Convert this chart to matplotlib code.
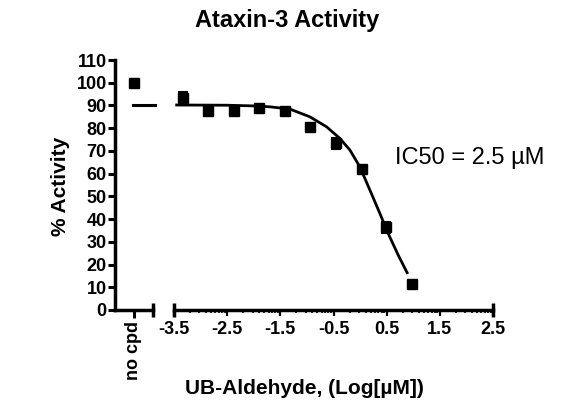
import matplotlib
matplotlib.use('Agg')
import matplotlib.pyplot as plt
import numpy as np

plt.rcParams['font.family'] = ['Liberation Sans', 'DejaVu Sans']

# data
nocpd_act = [100.0]
nocpd_err = [1.5]
nocpd_top_line = [90.0, 90.0]

log_conc = [-3.33, -2.86, -2.37, -1.90, -1.42, -0.94, -0.46, 0.04, 0.49, 0.98]
activity = [93.1, 87.6, 87.6, 88.8, 87.4, 80.5, 73.3, 61.9, 36.4, 11.3]
activity_err = [2.8, 1.0, 1.0, 1.0, 1.0, 1.0, 2.5, 1.0, 2.5, 0.5]

# fitted curve
fit_x = [-3.45, -2.5, -2.0, -1.695, -1.32, -0.944, -0.63, -0.38, -0.192, -0.004,
         0.184, 0.372, 0.528, 0.716, 0.885]
fit_y = [90.2, 90.1, 89.8, 89.4, 88.4, 85.0, 80.6, 75.5, 70.4, 63.0,
         52.8, 42.5, 33.7, 24.2, 16.4]

x_major = [-3.5, -2.5, -1.5, -0.5, 0.5, 1.5, 2.5]
x_labels = ['-3.5', '-2.5', '-1.5', '-0.5', '0.5', '1.5', '2.5']
y_major = list(range(0, 111, 10))

W, H = 580, 409
fig = plt.figure(figsize=(W / 100, H / 100), dpi=100)

bot = 1 - 310 / H
hgt = (310 - 60) / H
ax0 = fig.add_axes([115 / W, bot, (153 - 115) / W, hgt])
ax1 = fig.add_axes([174 / W, bot, (493 - 174) / W, hgt])

spine_w = 2.5
for ax in (ax0, ax1):
    ax.set_ylim(0, 110)
    ax.patch.set_alpha(0)
    for s in ('top', 'right'):
        ax.spines[s].set_visible(False)
    ax.spines['bottom'].set_linewidth(spine_w)
    ax.spines['left'].set_linewidth(spine_w)

# left "no cpd" panel
ax0.set_xlim(0, 1)
ax0.set_yticks(y_major)
ax0.set_yticklabels([str(v) for v in y_major], fontsize=13, fontweight='bold')
ax0.tick_params(axis='y', direction='out', length=5, width=2.2, pad=1)
ax0.set_xticks([0.5])
ax0.set_xticklabels(['no cpd'], rotation=90, fontsize=13, fontweight='bold')
ax0.tick_params(axis='x', direction='out', length=6, width=2.2, pad=2)
ax0.errorbar([0.5], nocpd_act, yerr=nocpd_err, fmt='s', color='black', ms=6.5,
             capsize=3.5, elinewidth=1.5, capthick=1.5, clip_on=False)
ax0.plot([0.47, 1.05], nocpd_top_line, color='black', lw=2.2, clip_on=False)
ax0.plot([1], [0], marker='|', ms=10, mew=2.5, color='black',
         transform=ax0.transAxes, clip_on=False)

# main panel
ax1.spines['left'].set_visible(False)
ax1.set_yticks([])
ax1.set_xlim(-3.5, 2.5)
ax1.set_xticks(x_major)
ax1.set_xticklabels(x_labels, fontsize=13, fontweight='bold')
minor = []
for a in x_major[:-1]:
    for k in range(2, 10):
        minor.append(a + np.log10(k))
ax1.set_xticks(minor, minor=True)
ax1.tick_params(axis='x', which='major', direction='out', length=4, width=1.6, pad=4)
ax1.tick_params(axis='x', which='minor', direction='out', length=2.5, width=1.2)
ax1.plot(fit_x, fit_y, color='black', lw=2.0, clip_on=False, solid_joinstyle='round')
ax1.errorbar(log_conc, activity, yerr=activity_err, fmt='s', color='black', ms=6.5,
             capsize=3.5, elinewidth=1.5, capthick=1.5, clip_on=False)
for xe in (0, 1):
    ax1.plot([xe], [0], marker='|', ms=10, mew=2.5, color='black',
             transform=ax1.transAxes, clip_on=False)

fig.text(287 / W, 1 - 21 / H, 'Ataxin-3 Activity', ha='center', va='center',
         fontsize=17, fontweight='bold')
fig.text(60 / W, 1 - 186 / H, '% Activity', ha='center', va='center',
         rotation=90, fontsize=15, fontweight='bold')
fig.text(304 / W, 1 - 388 / H, 'UB-Aldehyde, (Log[µM])', ha='center', va='center',
         fontsize=15, fontweight='bold')
fig.text(395 / W, 1 - 158 / H, 'IC50 = 2.5 µM', ha='left', va='center', fontsize=17)

fig.savefig('out.png', dpi=100, facecolor='white')
